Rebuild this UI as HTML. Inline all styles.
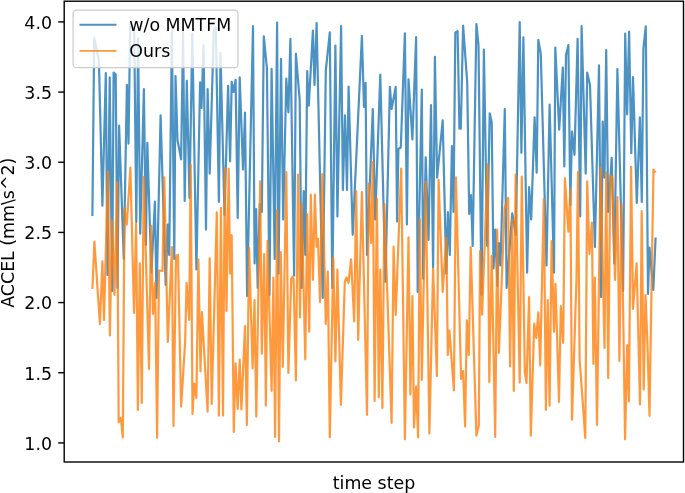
<!DOCTYPE html>
<html><head><meta charset="utf-8"><title>plot</title>
<style>
html,body{margin:0;padding:0;background:#fff;}
svg{display:block;font-family:"DejaVu Sans","Liberation Sans",sans-serif;font-size:17.4px;fill:#000;}
</style></head><body>
<svg width="685" height="493" viewBox="0 0 685 493">
<rect width="685" height="493" fill="#fff"/>
<polyline points="92.4,216.0 94.2,37.8 98.9,60.3 102.4,205.7 105.8,73.0 107.5,275.0 109.7,77.3 112.2,291.0 113.6,72.6 115.7,74.6 117.5,288.0 119.1,125.6 123.8,259.0 126.9,84.9 128.5,143.6 130.2,23.0 132.2,26.0 134.2,28.0 136.3,222.0 138.1,38.4 140.2,233.7 143.9,89.0 145.9,245.0 147.3,142.9 151.4,272.6 154.9,201.6 156.5,298.0 160.6,115.3 165.7,285.0 167.7,224.5 169.2,255.0 171.9,30.7 174.3,259.0 175.5,76.0 177.5,140.0 181.1,159.3 183.1,30.0 184.7,201.0 186.8,80.8 189.5,198.0 192.3,33.7 196.4,269.5 200.1,82.4 201.5,108.0 203.5,45.0 206.0,229.6 207.6,89.0 209.7,173.6 213.8,30.0 215.8,27.6 218.9,202.0 220.5,52.8 224.5,215.0 228.1,85.9 230.1,161.3 231.7,81.8 233.6,92.0 235.6,79.8 237.7,218.0 239.7,77.3 243.0,169.5 245.0,112.7 247.1,296.0 253.0,26.2 254.6,263.4 256.1,209.0 257.7,288.0 259.8,204.0 261.8,212.0 263.8,36.4 266.9,68.0 269.5,295.0 271.6,68.9 274.7,259.0 277.1,22.5 278.5,273.6 281.0,58.9 283.2,219.4 286.3,78.7 288.4,112.3 290.4,38.9 294.1,275.7 295.9,53.8 299.7,100.0 301.6,288.0 303.7,191.0 305.3,255.0 307.2,71.2 308.8,105.7 312.9,30.7 314.5,84.9 316.6,23.1 322.7,298.0 325.8,70.6 329.8,32.3 332.3,288.0 335.4,45.6 337.4,216.4 341.1,26.2 342.9,190.0 345.0,115.3 347.0,190.0 348.6,86.5 352.7,234.8 361.9,35.8 364.0,107.0 365.6,82.8 367.0,255.0 372.8,109.2 375.2,219.4 380.3,74.6 385.4,281.8 389.9,86.9 391.6,109.0 395.7,86.9 397.1,221.5 398.4,149.0 400.8,147.5 404.9,33.3 406.9,224.5 408.5,79.3 412.4,139.5 416.1,37.2 417.7,292.0 421.8,89.6 423.2,278.7 425.7,157.3 428.5,240.0 431.0,105.0 433.1,267.5 434.9,56.9 437.1,177.7 442.7,120.4 446.3,273.6 447.9,212.0 449.8,255.0 451.9,146.0 453.5,212.0 455.3,32.7 457.6,31.1 459.4,128.4 460.8,128.8 463.1,25.6 467.2,82.0 469.2,214.0 471.0,195.0 472.7,246.0 476.4,24.1 478.5,45.0 481.5,295.0 483.9,49.7 487.2,246.0 489.7,113.3 491.7,122.0 493.5,268.5 495.3,229.6 497.4,286.0 498.9,243.0 500.5,265.4 504.8,109.0 506.6,288.0 512.2,213.3 515.8,235.0 519.7,22.1 521.4,152.8 523.4,37.4 527.1,272.6 529.1,187.0 531.2,219.4 534.6,117.4 536.7,172.6 538.3,39.9 540.8,54.0 546.5,265.4 549.6,104.5 554.0,272.6 555.3,47.6 559.2,129.7 562.8,67.5 564.3,166.5 566.0,55.0 568.4,45.0 570.3,205.0 572.0,131.7 574.5,154.8 577.6,38.9 580.2,216.4 581.6,26.2 585.7,173.6 587.2,72.6 590.0,85.0 594.9,247.0 599.0,65.4 601.1,297.0 602.7,121.5 604.5,177.7 606.2,50.1 608.2,212.0 611.7,157.9 614.3,263.4 617.4,69.1 623.1,291.0 625.2,33.7 627.1,114.3 629.1,31.7 631.3,153.2 633.0,77.1 636.8,203.0 639.9,117.4 641.8,202.0 643.4,48.7 645.8,26.4 648.0,294.0 649.5,247.7 653.3,290.0 655.6,237.5" fill="none" stroke="#1f77b4" stroke-opacity="0.8" stroke-width="2.2" stroke-linejoin="round" stroke-linecap="butt"/>
<polyline points="92.4,289.0 94.4,241.5 99.9,324.0 102.4,261.3 104.0,320.0 107.9,171.6 109.9,335.4 112.0,220.4 114.5,295.0 117.1,182.4 118.7,422.3 120.8,418.0 122.8,437.3 124.5,208.3 126.8,224.6 130.4,167.5 134.0,313.0 136.1,223.5 137.9,410.0 139.8,263.4 141.8,403.0 143.7,177.1 149.0,369.0 151.0,225.6 153.0,314.0 155.1,282.8 157.1,437.7 159.0,270.5 162.5,271.0 164.3,177.3 167.8,342.0 171.9,247.0 173.5,426.0 176.0,256.0 178.0,255.0 181.1,406.6 185.1,343.0 186.6,282.8 189.2,320.0 190.7,165.0 192.5,414.0 194.3,383.5 196.4,397.8 198.4,259.3 200.5,371.3 201.9,312.0 207.6,411.7 209.7,258.3 211.7,404.0 216.8,212.3 218.9,415.6 220.9,207.8 223.0,415.6 224.8,168.5 226.5,311.0 228.7,168.5 230.1,273.6 231.7,235.2 233.8,432.0 235.6,363.4 237.7,409.0 239.7,359.7 241.4,409.4 245.0,326.0 246.9,425.0 249.1,248.0 252.6,368.5 254.5,300.0 256.3,416.6 260.2,181.4 261.8,353.6 264.2,254.2 265.9,405.6 267.5,240.9 271.6,391.0 273.4,277.7 275.1,437.0 277.1,210.2 279.0,441.3 280.8,252.0 282.8,367.0 286.3,172.0 288.4,373.0 291.2,279.0 292.4,276.7 293.6,279.0 295.9,380.4 298.0,174.6 300.0,317.4 301.6,204.0 305.3,359.3 307.2,214.0 309.2,331.7 310.8,194.7 312.9,279.8 314.9,194.7 316.6,247.0 318.0,238.9 320.0,302.0 322.3,174.0 325.8,324.0 327.8,271.6 329.8,437.3 333.3,257.3 335.4,361.3 337.4,269.5 340.9,405.0 344.8,282.0 346.6,277.3 348.5,283.0 351.1,259.3 354.2,321.5 356.2,191.0 358.2,340.0 361.9,192.0 367.0,414.8 368.7,183.8 371.1,243.0 372.8,162.0 374.6,400.9 376.9,198.8 378.8,397.2 380.3,269.5 382.4,408.0 384.4,204.0 391.6,423.0 393.6,246.6 395.7,315.0 401.2,168.5 404.9,439.3 408.5,237.4 410.4,394.6 412.4,296.0 414.0,427.4 416.1,386.5 418.1,437.3 419.8,219.4 421.8,380.0 425.7,181.8 429.4,433.6 433.1,268.5 436.9,376.0 438.6,179.8 442.7,292.0 446.3,237.8 447.8,355.0 449.4,330.7 453.9,390.5 455.9,177.3 461.1,379.0 463.1,371.0 465.1,426.4 466.8,320.4 468.8,355.0 470.7,247.0 476.4,435.6 478.8,425.4 480.1,251.0 482.1,314.7 487.6,164.4 489.3,382.0 491.7,256.0 495.2,437.0 497.2,229.7 498.9,353.0 504.6,208.0 508.1,197.8 510.1,366.5 512.2,219.4 513.8,391.0 515.6,174.6 519.7,382.6 521.8,176.7 524.8,371.6 526.5,383.0 529.1,297.0 530.8,435.6 534.2,323.5 536.3,337.8 538.3,312.3 540.2,365.4 543.8,199.0 545.9,410.0 547.7,300.0 549.6,405.6 551.6,241.0 554.0,331.7 555.5,283.8 559.0,401.9 560.8,306.0 563.2,343.0 564.9,178.3 568.4,231.7 570.4,189.0 572.0,419.7 576.5,277.7 578.0,172.0 579.6,359.0 585.3,438.0 587.2,181.4 589.4,254.0 591.9,222.5 593.4,364.0 594.9,277.7 597.0,425.0 600.6,167.9 604.5,348.0 606.2,172.6 608.2,378.0 610.3,175.7 612.3,177.3 615.0,280.0 617.4,197.0 619.4,361.0 621.5,204.0 625.1,439.3 627.2,345.0 628.9,401.4 631.1,166.9 633.0,309.0 636.6,263.4 640.0,404.5 641.7,211.2 643.7,389.5 645.5,295.0 647.5,345.0 649.5,415.8 651.4,295.0 653.5,169.6 655.6,172.6" fill="none" stroke="#ff7f0e" stroke-opacity="0.8" stroke-width="2.2" stroke-linejoin="round" stroke-linecap="butt"/>
<rect x="64.2" y="1.2" width="619.3" height="460.8" fill="none" stroke="#000" stroke-width="1.4"/>
<line x1="58.2" x2="64.2" y1="21.9" y2="21.9" stroke="#000" stroke-width="1.4"/><text x="52.0" y="28.799999999999997" text-anchor="end">4.0</text><line x1="58.2" x2="64.2" y1="92.07" y2="92.07" stroke="#000" stroke-width="1.4"/><text x="52.0" y="98.97" text-anchor="end">3.5</text><line x1="58.2" x2="64.2" y1="162.24" y2="162.24" stroke="#000" stroke-width="1.4"/><text x="52.0" y="169.14000000000001" text-anchor="end">3.0</text><line x1="58.2" x2="64.2" y1="232.41" y2="232.41" stroke="#000" stroke-width="1.4"/><text x="52.0" y="239.31" text-anchor="end">2.5</text><line x1="58.2" x2="64.2" y1="302.58" y2="302.58" stroke="#000" stroke-width="1.4"/><text x="52.0" y="309.47999999999996" text-anchor="end">2.0</text><line x1="58.2" x2="64.2" y1="372.75" y2="372.75" stroke="#000" stroke-width="1.4"/><text x="52.0" y="379.65" text-anchor="end">1.5</text><line x1="58.2" x2="64.2" y1="442.92" y2="442.92" stroke="#000" stroke-width="1.4"/><text x="52.0" y="449.82" text-anchor="end">1.0</text>
<text x="374" y="488.8" text-anchor="middle">time step</text>
<text transform="translate(13.6,232.7) rotate(-90)" text-anchor="middle">ACCEL (mm\s^2)</text>
<rect x="73.1" y="10.2" width="164.9" height="57.5" rx="3.5" fill="#fff" fill-opacity="0.8" stroke="#ccc" stroke-width="1.25"/>
<line x1="79.5" x2="116.5" y1="24.8" y2="24.8" stroke="#1f77b4" stroke-opacity="0.8" stroke-width="1.9"/>
<line x1="79.5" x2="116.5" y1="50.9" y2="50.9" stroke="#ff7f0e" stroke-opacity="0.8" stroke-width="1.9"/>
<text x="129.3" y="31">w/o MMTFM</text>
<text x="129.3" y="57">Ours</text>
</svg>
</body></html>
